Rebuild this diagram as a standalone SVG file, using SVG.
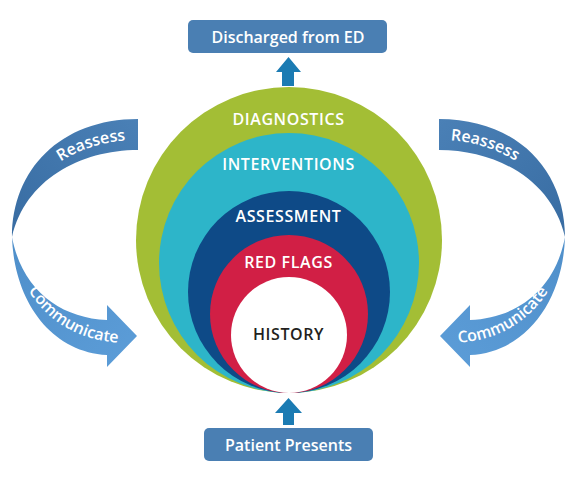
<svg xmlns="http://www.w3.org/2000/svg" width="578" height="480" viewBox="0 0 578 480">
  <style>
    .lbl { font-family: "Open Sans", "Liberation Sans", sans-serif; font-weight: 600; fill: #ffffff; text-anchor: middle; }
    .ring { font-size: 16px; letter-spacing: 0.6px; }
    .box { fill: #4a7fb3; }
    .uparrow { fill: #1b7bb3; }
    .arc { font-family: "Open Sans", "Liberation Sans", sans-serif; font-weight: 600; font-size: 16px; fill: #ffffff; }
  </style>
  <defs>
    <linearGradient id="gUp" x1="1" y1="0" x2="0" y2="1">
      <stop offset="0" stop-color="#4a80b6"/>
      <stop offset="1" stop-color="#386ca2"/>
    </linearGradient>
    <linearGradient id="gLow" x1="0" y1="0" x2="1" y2="1">
      <stop offset="0" stop-color="#4f8fca"/>
      <stop offset="1" stop-color="#5c9dd8"/>
    </linearGradient>
    <path id="upBand" d="M138,119 C60,119 12,170 12,237 C25,180 80,150 138,150 Z"/>
    <path id="lowBand" d="M12,237 C14,300 50,352 107,355 L107,367 L137,336 L107,305 L107,320 C60,318 22,290 12,237 Z"/>
    <path id="tpL1" d="M14,237 C22,175 75,140 138,140"/>
    <path id="tpL2" d="M16,262 C30,310 70,342 125,343"/>
    <path id="tpR1" d="M439,140 C502,140 555,175 563,237"/>
    <path id="tpR2" d="M452,343 C507,342 547,310 561,262"/>
  </defs>

  <g id="connectors">
    <path class="uparrow" d="M282,86 L282,72 L276,72 L288.5,57 L301,72 L294,72 L294,86 Z"/>
    <path class="uparrow" d="M283,425 L283,413 L275,413 L288.5,398 L302,413 L294,413 L294,425 Z"/>
  </g>

  <g id="node-diagnostics">
    <circle cx="289" cy="240" r="153" fill="#a3be35"/>
    <text class="lbl ring" x="288.5" y="125">DIAGNOSTICS</text>
  </g>
  <g id="node-interventions">
    <circle cx="289" cy="263" r="130" fill="#2db5c9"/>
    <text class="lbl ring" x="288.5" y="170">INTERVENTIONS</text>
  </g>
  <g id="node-assessment">
    <circle cx="289" cy="292" r="101" fill="#0e4a87"/>
    <text class="lbl ring" x="288.5" y="221.5">ASSESSMENT</text>
  </g>
  <g id="node-redflags">
    <circle cx="289" cy="314" r="79" fill="#d11f45"/>
    <text class="lbl ring" x="288.5" y="268">RED FLAGS</text>
  </g>
  <g id="node-history">
    <circle cx="289" cy="335" r="58" fill="#ffffff"/>
    <text class="lbl ring" x="288.5" y="340" style="fill:#231f20">HISTORY</text>
  </g>

  <g id="node-discharged">
    <rect class="box" x="188" y="20" width="199" height="33" rx="5"/>
    <text class="lbl" x="288" y="43" font-size="16">Discharged from ED</text>
  </g>
  <g id="node-patient">
    <rect class="box" x="204" y="428" width="169" height="33" rx="5"/>
    <text class="lbl" x="288.5" y="451" font-size="16">Patient Presents</text>
  </g>

  <g id="node-left-cycle">
    <use href="#upBand" fill="url(#gUp)"/>
    <use href="#lowBand" fill="url(#gLow)"/>
    <text class="arc" text-anchor="middle"><textPath href="#tpL1" startOffset="126">Reassess</textPath></text>
    <text class="arc" text-anchor="middle"><textPath href="#tpL2" startOffset="85">Communicate</textPath></text>
  </g>
  <g id="node-right-cycle">
    <g transform="translate(577,0) scale(-1,1)">
      <use href="#upBand" fill="url(#gUp)"/>
      <use href="#lowBand" fill="url(#gLow)"/>
    </g>
    <text class="arc" text-anchor="middle"><textPath href="#tpR1" startOffset="46">Reassess</textPath></text>
    <text class="arc" text-anchor="middle"><textPath href="#tpR2" startOffset="60">Communicate</textPath></text>
  </g>
</svg>
